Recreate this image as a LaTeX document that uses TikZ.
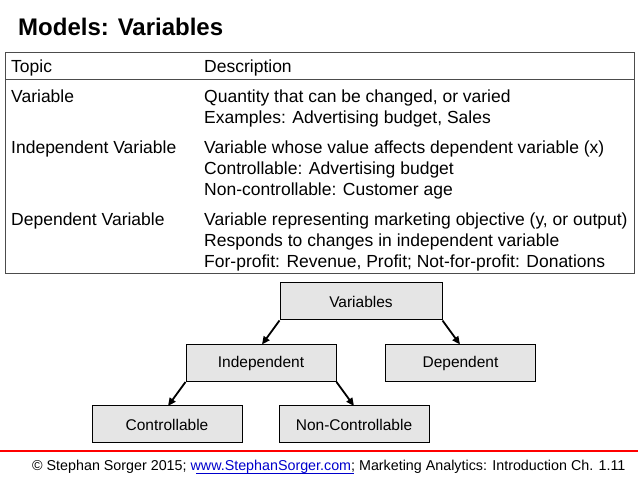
\documentclass[tikz,border=0pt]{standalone}
\usepackage{fontspec}
\setmainfont{Liberation Sans}
\usetikzlibrary{arrows.meta}
\begin{document}
\begin{tikzpicture}[x=1pt,y=-1pt,
  bx/.style={draw=black,fill=black!10,line width=1pt,minimum width=150pt,minimum height=37pt,inner sep=0pt,font=\fontsize{15.5}{18}\selectfont},
  arr/.style={line width=1.8pt,-{Triangle[length=8pt,width=7pt]}},
  txt/.style={anchor=base west,inner sep=0pt,font=\fontsize{17.5}{20}\selectfont}]
\useasboundingbox (0,0) rectangle (638,478);
\node[anchor=base west,inner sep=0pt,font=\fontsize{24}{28}\selectfont\bfseries] (title) at (18,36) {Models: Variables};
\draw[line width=0.8pt,black!70] (5,52) rectangle (634,273);
\draw[line width=0.8pt,black!70] (5,79) -- (634,79);
\node[txt] (h1) at (11,73) {Topic};
\node[txt] (h2) at (204,73) {Description};
\node[txt] (r1) at (11,103) {Variable};
\node[txt] (d1a) at (204,103) {Quantity that can be changed, or varied};
\node[txt] (d1b) at (204,124) {Examples: Advertising budget, Sales};
\node[txt] (r2) at (11,154) {Independent Variable};
\node[txt] (d2a) at (204,154) {Variable whose value affects dependent variable (x)};
\node[txt] (d2b) at (204,175) {Controllable: Advertising budget};
\node[txt] (d2c) at (204,196) {Non-controllable: Customer age};
\node[txt] (r3) at (11,226) {Dependent Variable};
\node[txt] (d3a) at (204,226) {Variable representing marketing objective (y, or output)};
\node[txt] (d3b) at (204,247) {Responds to changes in independent variable};
\node[txt] (d3c) at (204,268) {For-profit: Revenue, Profit; Not-for-profit: Donations};
\node[bx,minimum width=162pt] (v) at (361,301.5) {Variables};
\node[bx] (i) at (261,363) {Independent};
\node[bx] (d) at (460.5,363) {Dependent};
\node[bx] (c) at (167,424.5) {Controllable};
\node[bx] (n) at (354,424.5) {Non-Controllable};
\coordinate (ai) at (262,344.5);
\coordinate (ad) at (460,344.5);
\coordinate (ac) at (168,406);
\coordinate (an) at (354,406);
\draw[arr] (v.south west) -- (ai);
\draw[arr] (v.south east) -- (ad);
\draw[arr] (i.south west) -- (ac);
\draw[arr] (i.south east) -- (an);
\draw[red,line width=2pt] (0,451) -- (638,451);
\node[anchor=base west,inner sep=0pt,font=\fontsize{14.3}{16}\selectfont] (f) at (32,471) {© Stephan Sorger 2015; \textcolor{blue!80!black}{www.StephanSorger.com}; Marketing Analytics: Introduction Ch. 1.11};
\draw[blue!80!black,line width=0.6pt] (196,473) -- (354,473);
\end{tikzpicture}
\end{document}
